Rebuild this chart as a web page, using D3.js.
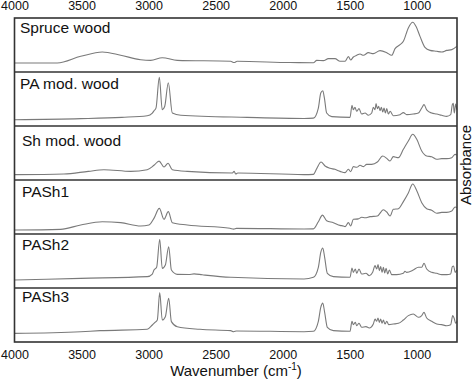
<!DOCTYPE html>
<html>
<head>
<meta charset="utf-8">
<script src="https://cdn.jsdelivr.net/npm/d3@7/dist/d3.min.js"></script>
<style>
  html, body { margin: 0; padding: 0; background: #fff; }
  svg { display: block; font-family: Arial, "Liberation Sans", Helvetica, sans-serif; }
</style>
</head>
<body>
<svg id="chart" width="474" height="379"></svg>
<script>
// ---- data (wavenumber cm-1, relative absorbance within each panel) ----
const panelNames = ["Spruce wood", "PA mod. wood", "Sh mod. wood", "PASh1", "PASh2", "PASh3"];
const tickValues = [4000, 3500, 3000, 2500, 2000, 1500, 1000];

const spruceWood = [[4000,0.167],[3681,0.167],[3506,0.29],[3345,0.37],[3208,0.31],[3059,0.228],[2984,0.216],[2898,0.265],[2786,0.216],[2388,0.198],[2362,0.175],[2340,0.198],[1945,0.175],[1771,0.172],[1746,0.216],[1697,0.21],[1659,0.247],[1610,0.247],[1572,0.198],[1535,0.198],[1510,0.284],[1493,0.222],[1473,0.278],[1448,0.309],[1423,0.333],[1398,0.309],[1361,0.358],[1324,0.34],[1274,0.395],[1224,0.358],[1187,0.309],[1162,0.432],[1125,0.506],[1100,0.568],[1063,0.815],[1030,0.92],[1006,0.846],[976,0.66],[939,0.457],[901,0.4],[851,0.383],[814,0.37],[777,0.4],[739,0.414],[702,0.475]];

const paModWood = [[4000,0.117],[3506,0.136],[3200,0.16],[3010,0.19],[2972,0.24],[2960,0.28],[2945,0.33],[2920,0.9],[2898,0.3],[2880,0.36],[2853,0.8],[2823,0.24],[2760,0.2],[2264,0.16],[1841,0.14],[1771,0.145],[1734,0.333],[1716,0.611],[1701,0.654],[1689,0.52],[1672,0.24],[1634,0.173],[1498,0.16],[1483,0.383],[1473,0.3],[1461,0.346],[1448,0.272],[1431,0.321],[1411,0.222],[1386,0.24],[1361,0.198],[1336,0.24],[1324,0.346],[1311,0.3],[1304,0.414],[1294,0.321],[1284,0.364],[1274,0.284],[1264,0.346],[1254,0.259],[1244,0.333],[1234,0.24],[1224,0.321],[1212,0.222],[1199,0.272],[1175,0.191],[1125,0.21],[1100,0.247],[1075,0.21],[1026,0.222],[988,0.24],[963,0.333],[946,0.395],[926,0.3],[889,0.24],[851,0.222],[814,0.198],[777,0.179],[747,0.21],[735,0.395],[728,0.42],[720,0.24],[710,0.407],[702,0.3]];

const shModWood = [[4000,0.099],[3631,0.111],[3450,0.16],[3333,0.191],[3133,0.16],[3010,0.191],[2960,0.272],[2922,0.35],[2885,0.24],[2855,0.31],[2823,0.191],[2711,0.16],[2375,0.13],[2362,0.16],[2350,0.11],[2335,0.13],[1841,0.1],[1771,0.105],[1746,0.21],[1714,0.333],[1684,0.259],[1647,0.216],[1610,0.198],[1572,0.16],[1535,0.136],[1510,0.198],[1493,0.154],[1473,0.247],[1448,0.235],[1423,0.272],[1398,0.247],[1374,0.29],[1336,0.29],[1294,0.333],[1254,0.444],[1224,0.401],[1199,0.352],[1175,0.432],[1137,0.414],[1100,0.568],[1063,0.722],[1030,0.846],[1000,0.753],[963,0.537],[926,0.444],[889,0.432],[851,0.383],[814,0.395],[777,0.395],[739,0.414],[714,0.475],[702,0.46]];

const pash1 = [[4000,0.074],[3656,0.086],[3506,0.167],[3345,0.228],[3208,0.21],[3059,0.148],[2997,0.167],[2960,0.29],[2920,0.475],[2885,0.272],[2853,0.414],[2823,0.21],[2711,0.167],[2393,0.105],[2365,0.09],[2345,0.105],[1841,0.093],[1771,0.095],[1734,0.228],[1703,0.35],[1672,0.245],[1622,0.21],[1572,0.16],[1548,0.148],[1535,0.136],[1510,0.21],[1493,0.148],[1473,0.272],[1436,0.28],[1411,0.309],[1386,0.3],[1349,0.321],[1294,0.333],[1249,0.45],[1224,0.407],[1199,0.333],[1175,0.457],[1137,0.469],[1100,0.6],[1063,0.76],[1030,0.925],[1000,0.8],[963,0.58],[926,0.469],[889,0.44],[851,0.383],[814,0.4],[777,0.4],[739,0.426],[714,0.5],[702,0.49]];

const pash2 = [[4000,0.148],[3506,0.179],[3010,0.21],[2972,0.259],[2960,0.333],[2940,0.383],[2917,0.9],[2898,0.364],[2875,0.426],[2850,0.765],[2830,0.333],[2786,0.253],[2700,0.25],[2661,0.262],[2600,0.245],[2388,0.198],[1841,0.167],[1771,0.198],[1734,0.383],[1716,0.66],[1701,0.741],[1687,0.568],[1667,0.272],[1622,0.21],[1498,0.198],[1483,0.37],[1473,0.29],[1458,0.352],[1448,0.272],[1431,0.352],[1411,0.259],[1379,0.272],[1354,0.228],[1329,0.29],[1311,0.414],[1299,0.352],[1289,0.432],[1279,0.321],[1269,0.395],[1259,0.29],[1249,0.383],[1239,0.278],[1229,0.364],[1217,0.259],[1204,0.333],[1187,0.247],[1150,0.247],[1100,0.272],[1088,0.309],[1075,0.29],[1026,0.333],[988,0.383],[963,0.383],[946,0.457],[926,0.352],[889,0.29],[851,0.272],[814,0.247],[777,0.247],[747,0.26],[735,0.395],[725,0.407],[714,0.29],[702,0.333]];

const pash3 = [[4000,0.16],[3506,0.191],[3362,0.21],[3010,0.235],[2972,0.315],[2955,0.358],[2935,0.407],[2917,0.914],[2898,0.407],[2875,0.469],[2850,0.809],[2830,0.377],[2786,0.284],[2617,0.235],[2388,0.21],[2365,0.19],[2345,0.205],[1841,0.191],[1771,0.198],[1734,0.383],[1716,0.642],[1701,0.72],[1687,0.549],[1667,0.272],[1622,0.21],[1498,0.198],[1483,0.383],[1473,0.321],[1458,0.364],[1448,0.302],[1431,0.346],[1411,0.272],[1379,0.284],[1354,0.259],[1324,0.333],[1311,0.426],[1299,0.383],[1289,0.444],[1279,0.364],[1269,0.426],[1259,0.346],[1249,0.407],[1237,0.333],[1224,0.383],[1209,0.321],[1175,0.333],[1137,0.346],[1100,0.407],[1063,0.488],[1026,0.519],[988,0.457],[963,0.488],[946,0.549],[926,0.444],[889,0.383],[851,0.333],[814,0.321],[777,0.302],[747,0.32],[732,0.488],[720,0.43],[710,0.346],[702,0.38]];

const spectra = [spruceWood, paModWood, shModWood, pash1, pash2, pash3];

// ---- layout ----
const plotLeft = 14.5, plotRight = 457, plotTop = 18, panelH = 54;
const nP = panelNames.length;
const plotBottom = plotTop + nP * panelH;
const labelDy = [15, 16.5, 20, 17, 16, 14];
const labelDx = [20, 20, 22, 22, 22, 22];

const svg = d3.select("#chart");
const x = d3.scaleLinear().domain([4000, 700]).range([plotLeft, plotRight]);

// spectra
spectra.forEach((data, i) => {
  const t = plotTop + i * panelH;
  const y = d3.scaleLinear().domain([0, 1]).range([t + panelH, t]);
  const line = d3.line().x(d => x(d[0])).y(d => y(d[1])).curve(d3.curveMonotoneX);
  svg.append("path")
    .datum(data)
    .attr("d", line)
    .attr("fill", "none")
    .attr("stroke", "#7a7a7a")
    .attr("stroke-width", 1.1)
    .attr("stroke-linejoin", "round");
  svg.append("text")
    .attr("x", labelDx[i])
    .attr("y", t + labelDy[i])
    .attr("font-size", 15.5)
    .attr("fill", "#111")
    .text(panelNames[i]);
});

// separators & frame
for (let i = 1; i < nP; i++) {
  svg.append("line")
    .attr("x1", plotLeft).attr("x2", plotRight)
    .attr("y1", plotTop + i * panelH).attr("y2", plotTop + i * panelH)
    .attr("stroke", "#333").attr("stroke-width", 1.5);
}
svg.append("rect")
  .attr("x", plotLeft).attr("y", plotTop)
  .attr("width", plotRight - plotLeft).attr("height", plotBottom - plotTop)
  .attr("fill", "none").attr("stroke", "#333").attr("stroke-width", 1.6);

// axes
const fmt = d3.format("d");
const axB = svg.append("g").attr("transform", `translate(0,${plotBottom})`)
  .call(d3.axisBottom(x).tickValues(tickValues).tickFormat(fmt).tickSize(0).tickPadding(8));
const axT = svg.append("g").attr("transform", `translate(0,${plotTop})`)
  .call(d3.axisTop(x).tickValues(tickValues).tickFormat(fmt).tickSize(0).tickPadding(8.5));
[axB, axT].forEach(g => {
  g.select(".domain").remove();
  g.selectAll("text").attr("font-size", 12.5).attr("fill", "#111")
    .attr("font-family", "Arial, 'Liberation Sans', sans-serif");
});

// axis titles
const xt = svg.append("text")
  .attr("x", 236).attr("y", 375.5)
  .attr("text-anchor", "middle")
  .attr("font-size", 15).attr("fill", "#111");
xt.append("tspan").text("Wavenumber (cm");
xt.append("tspan").attr("font-size", 10).attr("dy", -6).text("-1");
xt.append("tspan").attr("dy", 6).text(")");

svg.append("text")
  .attr("transform", "translate(471,165) rotate(-90)")
  .attr("text-anchor", "middle")
  .attr("font-size", 15).attr("fill", "#111")
  .text("Absorbance");
</script>
</body>
</html>
